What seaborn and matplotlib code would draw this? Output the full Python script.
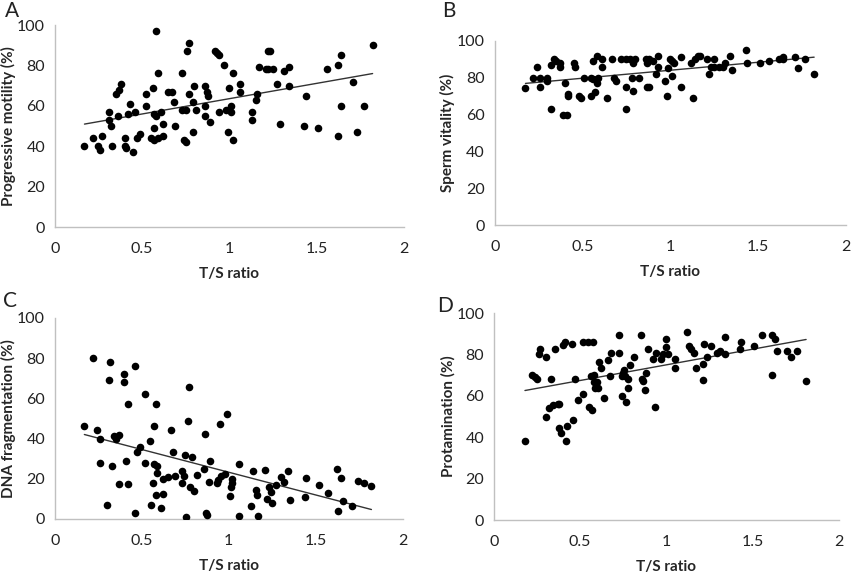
import numpy as np
import pandas as pd
import seaborn as sns
import matplotlib.pyplot as plt

# T/S ratio vs progressive motility (panel A)
ts_a = [0.17, 0.22, 0.25, 0.26, 0.27, 0.31, 0.31, 0.32, 0.33, 0.35, 0.36, 0.37, 0.38, 0.40, 0.40, 0.41,
        0.42, 0.43, 0.45, 0.46, 0.47, 0.49, 0.52, 0.52, 0.55, 0.56, 0.57, 0.57, 0.57, 0.58, 0.58, 0.59,
        0.59, 0.61, 0.62, 0.62, 0.65, 0.67, 0.68, 0.69, 0.73, 0.73, 0.75, 0.74, 0.75, 0.76, 0.77, 0.77,
        0.79, 0.79, 0.80, 0.81, 0.86, 0.86, 0.86, 0.87, 0.88, 0.89, 0.92, 0.93, 0.94, 0.94, 0.97, 0.98,
        0.99, 1.00, 1.01, 1.01, 1.02, 1.02, 1.06, 1.06, 1.13, 1.13, 1.15, 1.16, 1.17, 1.21, 1.22, 1.23,
        1.22, 1.25, 1.27, 1.29, 1.31, 1.34, 1.34, 1.43, 1.44, 1.51, 1.56, 1.62, 1.62, 1.64, 1.64, 1.71,
        1.73, 1.77, 1.82]
motility = [40, 44, 40, 38, 45, 57, 53, 50, 40, 66, 55, 68, 71, 40, 44, 39,
            56, 61, 37, 57, 44, 46, 66, 60, 44, 69, 43, 49, 56, 97, 55, 76,
            44, 57, 51, 45, 67, 67, 62, 50, 76, 58, 58, 43, 42, 87, 66, 91,
            62, 47, 70, 58, 55, 70, 60, 67, 65, 52, 87, 86, 85, 57, 80, 58,
            47, 69, 57, 60, 76, 43, 67, 71, 57, 53, 63, 66, 79, 78, 87, 87,
            78, 78, 71, 51, 77, 79, 70, 50, 65, 49, 78, 80, 45, 85, 60, 72,
            47, 60, 90]

# panel B
ts_b = [0.175, 0.22, 0.24, 0.26, 0.26, 0.30, 0.30, 0.32, 0.32, 0.34, 0.35, 0.37, 0.37, 0.39, 0.41, 0.40,
        0.42, 0.42, 0.45, 0.46, 0.48, 0.49, 0.51, 0.55, 0.55, 0.56, 0.56, 0.57, 0.58, 0.58, 0.59, 0.61,
        0.61, 0.64, 0.67, 0.68, 0.69, 0.72, 0.75, 0.75, 0.75, 0.77, 0.78, 0.79, 0.79, 0.80, 0.82, 0.86,
        0.87, 0.87, 0.88, 0.88, 0.90, 0.92, 0.93, 0.93, 0.97, 0.98, 0.99, 1.00, 1.01, 1.01, 1.02, 1.06,
        1.06, 1.12, 1.13, 1.14, 1.16, 1.17, 1.21, 1.22, 1.23, 1.25, 1.25, 1.28, 1.30, 1.31, 1.34, 1.35,
        1.43, 1.44, 1.51, 1.56, 1.62, 1.64, 1.64, 1.71, 1.73, 1.77, 1.82]
vitality = [74.5, 80, 86, 75, 80, 80, 78, 63, 87, 90, 89, 86, 88, 60, 60, 77,
            71, 70, 88, 86, 70, 69, 80, 80, 70, 89, 79, 72, 77, 92, 80, 90,
            86, 69, 90, 80, 78, 90, 90, 63, 75, 90, 80, 73, 88, 90, 80, 90,
            88, 75, 75, 90, 89, 82, 92, 86, 78, 70, 85, 90, 81, 89, 88, 91,
            75, 88, 69, 90, 92, 92, 90, 82, 86, 90, 86, 86, 86, 88, 92, 84,
            95, 88, 88, 89, 90, 90, 91, 91, 85, 90, 82]

# panel C
ts_c = [0.17, 0.22, 0.245, 0.26, 0.26, 0.30, 0.31, 0.32, 0.33, 0.34, 0.35, 0.37, 0.37, 0.40, 0.40, 0.41,
        0.42, 0.42, 0.46, 0.46, 0.47, 0.49, 0.52, 0.52, 0.55, 0.555, 0.565, 0.57, 0.57, 0.58, 0.59, 0.59,
        0.58, 0.61, 0.62, 0.62, 0.65, 0.67, 0.68, 0.69, 0.73, 0.73, 0.74, 0.75, 0.755, 0.765, 0.77, 0.775,
        0.79, 0.80, 0.82, 0.86, 0.865, 0.87, 0.875, 0.885, 0.895, 0.93, 0.94, 0.95, 0.957, 0.98, 0.99, 1.005,
        1.015, 1.02, 1.02, 1.06, 1.06, 1.13, 1.14, 1.155, 1.165, 1.17, 1.21, 1.22, 1.23, 1.24, 1.25, 1.27,
        1.30, 1.32, 1.34, 1.35, 1.44, 1.445, 1.52, 1.57, 1.62, 1.625, 1.645, 1.655, 1.71, 1.74, 1.78, 1.82]
fragmentation = [46, 80, 44, 28, 40, 7, 69, 78, 26.5, 41.5, 40, 42, 17.5, 68, 72, 29,
                 57, 17.5, 3, 76, 33.5, 36, 62, 28, 39, 7, 18, 27.5, 46, 57, 26.5, 23,
                 12, 5.5, 20, 12.5, 21, 44, 33.5, 21.5, 24, 18, 21.5, 32, 1, 48.5, 65.5, 16,
                 31, 14, 22, 25, 42.5, 3, 2, 18.5, 29, 18, 19.5, 47, 21.5, 22.5, 52, 11.5,
                 16, 20, 18, 27.5, 1.3, 6.5, 24, 14.5, 12, 1.3, 24.5, 10, 16, 13.5, 8, 17,
                 21, 18.5, 24, 9.5, 11, 20.5, 17, 13, 25, 3.8, 20.5, 9, 6.5, 19, 18, 16.5]

# panel D
ts_d = [0.18, 0.22, 0.24, 0.25, 0.26, 0.265, 0.30, 0.30, 0.32, 0.33, 0.345, 0.355, 0.37, 0.375, 0.38, 0.39,
        0.40, 0.41, 0.42, 0.425, 0.455, 0.46, 0.47, 0.485, 0.515, 0.515, 0.545, 0.55, 0.56, 0.57, 0.575, 0.58,
        0.58, 0.585, 0.60, 0.605, 0.61, 0.62, 0.64, 0.66, 0.675, 0.68, 0.725, 0.725, 0.74, 0.745, 0.75, 0.755,
        0.76, 0.765, 0.78, 0.78, 0.79, 0.81, 0.855, 0.86, 0.865, 0.875, 0.88, 0.895, 0.92, 0.935, 0.94, 0.97,
        0.98, 1.00, 1.00, 1.01, 1.05, 1.05, 1.12, 1.13, 1.145, 1.16, 1.17, 1.21, 1.215, 1.22, 1.235, 1.26,
        1.295, 1.31, 1.34, 1.34, 1.425, 1.435, 1.51, 1.555, 1.61, 1.615, 1.63, 1.64, 1.70, 1.725, 1.76, 1.81]
protamination = [38, 70, 69, 68, 80, 82.5, 79, 50, 54, 68, 55.5, 82.5, 56, 44.5, 56, 42,
                 84.5, 86, 38, 45.5, 85, 48.5, 68, 58, 61, 86, 86, 54.5, 69.5, 53, 86, 70,
                 66.5, 64, 66.5, 64, 76.5, 73.5, 59, 77.5, 69.5, 80.5, 89.5, 80.5, 69.5, 60, 71, 72.5,
                 69.5, 57, 68, 64, 75, 79, 89.5, 68, 67, 63, 71, 82.5, 78, 54.5, 80.5, 78,
                 80, 87.5, 83.5, 80, 73.5, 78, 91, 84, 82.5, 80.5, 73.5, 67.5, 75.5, 85, 79, 84,
                 80.5, 81.5, 88.5, 80, 82.5, 86, 84, 89.5, 89.5, 70, 87.5, 81.5, 81.5, 79, 81.5, 67]

# letter, x, y, y label, axes rect, letter position
panels = [
    ("A", ts_a, motility, "Progressive motility (%)", [0.064, 0.6106, 0.408, 0.3465], (0.006, 0.964)),
    ("B", ts_b, vitality, "Sperm vitality (%)", [0.578, 0.614, 0.410, 0.316], (0.516, 0.964)),
    ("C", ts_c, fragmentation, "DNA fragmentation (%)", [0.064, 0.1098, 0.4065, 0.345], (0.004, 0.466)),
    ("D", ts_d, protamination, "Protamination (%)", [0.577, 0.108, 0.403, 0.355], (0.511, 0.458)),
]

sns.set_style("white")
plt.rcParams['font.family'] = ['Lato', 'DejaVu Sans']

fig = plt.figure(figsize=(8.56, 5.83), dpi=100)
for letter, xs, ys, ylab, rect, lpos in panels:
    ax = fig.add_axes(rect)
    df = pd.DataFrame({"ts": xs, "val": ys})
    sns.scatterplot(data=df, x="ts", y="val", ax=ax, color="black", s=30,
                    edgecolor="black", linewidth=0, zorder=3)
    sns.regplot(data=df, x="ts", y="val", ax=ax, scatter=False, ci=None,
                line_kws={"color": "#333333", "linewidth": 1.0})
    ax.set_xlim(0, 2)
    ax.set_ylim(0, 100)
    ax.set_xticks([0, 0.5, 1, 1.5, 2])
    ax.set_xticklabels(["0", "0.5", "1", "1.5", "2"])
    ax.set_yticks([0, 20, 40, 60, 80, 100])
    for s in ["top", "right"]:
        ax.spines[s].set_visible(False)
    for s in ["left", "bottom"]:
        ax.spines[s].set_color("#c0c0c0")
        ax.spines[s].set_linewidth(1.0)
    ax.tick_params(axis="both", which="major", direction="out", length=4,
                   color="#c0c0c0", labelsize=11.5, labelcolor="#222222", pad=3)
    ax.tick_params(axis="x", pad=7)
    ax.set_xlabel("T/S ratio", fontsize=11, fontweight="bold", labelpad=8)
    ax.set_ylabel(ylab, fontsize=11, fontweight="bold")
    ax.yaxis.set_label_coords(-0.112, 0.5)
    fig.text(lpos[0], lpos[1], letter, fontsize=15, color="#222222", va="bottom")

fig.savefig("out.png", dpi=100)
